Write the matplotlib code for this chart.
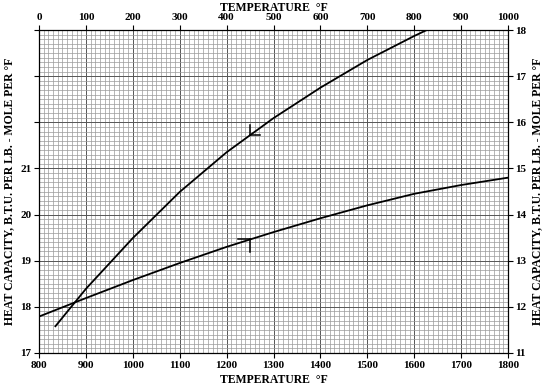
import numpy as np
import matplotlib
matplotlib.use("Agg")
import matplotlib.pyplot as plt
from matplotlib.ticker import MultipleLocator

plt.rcParams['font.family'] = ['Liberation Serif', 'DejaVu Serif']

# lower curve: bottom axis (800-1800 F) vs left axis
low_temp = [800, 900, 1000, 1100, 1200, 1300, 1400, 1500, 1600, 1700, 1800]
low_cp = [17.79, 18.19, 18.58, 18.95, 19.30, 19.62, 19.92, 20.20, 20.45, 20.64, 20.80]
low_mark = 1250

# steep curve: top axis (0-1000 F) vs right axis
high_temp = [35, 100, 200, 300, 400, 500, 600, 700, 800, 827]
high_cp = [11.58, 12.39, 13.49, 14.49, 15.35, 16.09, 16.75, 17.35, 17.87, 18.0]
high_mark = 450

left_ticks = [17, 18, 19, 20, 21, 22, 23, 24]
left_labels = ['17', '18', '19', '20', '21', '', '', '']
right_ticks = [11, 12, 13, 14, 15, 16, 17, 18]
bottom_ticks = list(range(800, 1801, 100))
top_ticks = list(range(0, 1001, 100))

ylab = 'HEAT CAPACITY, B.T.U. PER LB. - MOLE PER °F'
xlab = 'TEMPERATURE  °F'

fig = plt.figure(figsize=(5.45, 3.86), dpi=100)
pos = [39/545, 1 - 353/386, (508-39)/545, (353-30)/386]
ax = fig.add_axes(pos)
ax2 = fig.add_axes(pos, frameon=False)

tk = dict(labelsize=8, length=3.5, width=0.8, pad=2)

ax.set_xlim(800, 1800)
ax.set_ylim(17, 24)
ax.set_xticks(bottom_ticks)
ax.set_yticks(left_ticks)
ax.set_yticklabels(left_labels)
ax.xaxis.set_minor_locator(MultipleLocator(10))
ax.yaxis.set_minor_locator(MultipleLocator(0.1))
ax.tick_params(which='major', **tk)
ax.tick_params(which='minor', length=0)
for lab in ax.get_xticklabels() + ax.get_yticklabels():
    lab.set_fontweight('bold')
ax.grid(which='major', color='#555555', lw=0.7)
ax.grid(which='minor', color='#9a9a9a', lw=0.5)
ax.set_axisbelow(True)
ax.set_xlabel(xlab, fontsize=8.5, fontweight='bold', labelpad=3)
ax.set_ylabel(ylab, fontsize=8.5, fontweight='bold', labelpad=4)
for s in ax.spines.values():
    s.set_linewidth(0.9)

ax2.set_xlim(0, 1000)
ax2.set_ylim(11, 18)
ax2.xaxis.tick_top()
ax2.xaxis.set_label_position('top')
ax2.yaxis.tick_right()
ax2.yaxis.set_label_position('right')
ax2.set_xticks(top_ticks)
ax2.set_yticks(right_ticks)
ax2.tick_params(**tk)
for lab in ax2.get_xticklabels() + ax2.get_yticklabels():
    lab.set_fontweight('bold')
ax2.set_xlabel(xlab, fontsize=8.5, fontweight='bold', labelpad=2)
ax2.set_ylabel(ylab, fontsize=8.5, fontweight='bold', labelpad=3, rotation=90)

ax.plot(low_temp, low_cp, color='black', lw=1.3)
ax2.plot(high_temp, high_cp, color='black', lw=1.3)

# axis indicator marks on each curve
v = np.interp(low_mark, low_temp, low_cp)
ax.plot([low_mark - 25, low_mark], [v, v], color='black', lw=1.1)
ax.plot([low_mark, low_mark], [v, v - 0.27], color='black', lw=1.1)
v = np.interp(high_mark, high_temp, high_cp)
ax2.plot([high_mark, high_mark + 22], [v, v], color='black', lw=1.1)
ax2.plot([high_mark, high_mark], [v, v + 0.22], color='black', lw=1.1)

fig.savefig('out.png', dpi=100)
